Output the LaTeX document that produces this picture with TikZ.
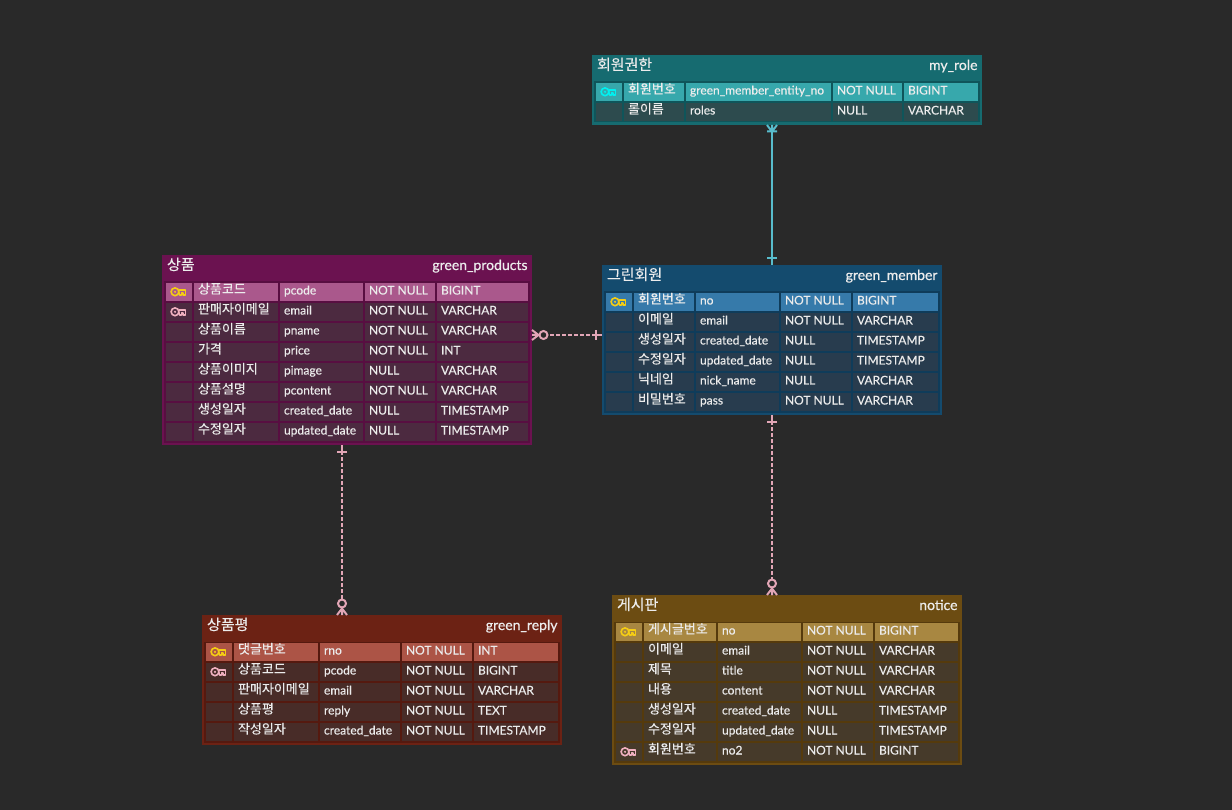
\documentclass[tikz,border=0pt]{standalone}
\usepackage{fontspec}
\setmainfont{Lato}[RawFeature={embolden=0.35}]
\newfontfamily\krfont{Noto Sans CJK KR}[RawFeature={embolden=0.2}]
\newfontfamily\ttfont{Lato}[RawFeature={embolden=0.6}]
\definecolor{bgc}{RGB}{41,41,41}
\definecolor{txtc}{RGB}{236,236,236}
\definecolor{pinkln}{RGB}{226,166,182}
\definecolor{tealln}{RGB}{88,188,204}
\definecolor{keyY}{RGB}{245,205,20}
\definecolor{keyC}{RGB}{0,240,240}
\definecolor{keyF}{RGB}{240,176,192}
\definecolor{pT}{RGB}{107,18,80}\definecolor{pB}{RGB}{88,14,65}\definecolor{pH}{RGB}{170,88,140}\definecolor{pN}{RGB}{76,42,64}
\definecolor{mT}{RGB}{20,75,110}\definecolor{mB}{RGB}{15,60,90}\definecolor{mH}{RGB}{54,122,170}\definecolor{mN}{RGB}{40,60,78}
\definecolor{nT}{RGB}{108,76,18}\definecolor{nB}{RGB}{85,58,12}\definecolor{nH}{RGB}{168,135,65}\definecolor{nN}{RGB}{70,58,42}
\definecolor{rT}{RGB}{108,34,20}\definecolor{rB}{RGB}{85,25,15}\definecolor{rH}{RGB}{172,84,70}\definecolor{rN}{RGB}{72,44,40}
\definecolor{oT}{RGB}{22,107,112}\definecolor{oB}{RGB}{15,85,90}\definecolor{oH}{RGB}{55,168,172}\definecolor{oN}{RGB}{45,75,78}
\tikzset{
  x=1pt,y=-1pt,
  tblbox/.style={inner sep=0pt,outer sep=0pt,anchor=north west},
  lat/.style={inner sep=0pt,outer sep=0pt,anchor=base west,text=txtc,font=\fontsize{12}{13}\selectfont},
  kor/.style={inner sep=0pt,outer sep=0pt,anchor=base west,text=txtc,font=\krfont\fontsize{13}{14}\selectfont},
  ttlkor/.style={inner sep=0pt,outer sep=0pt,anchor=base west,text=txtc,font=\krfont\fontsize{15}{16}\selectfont},
  ttllat/.style={inner sep=0pt,outer sep=0pt,anchor=base east,text=txtc,font=\ttfont\fontsize{14}{15}\selectfont},
  reldash/.style={draw=pinkln,line width=2pt,dash pattern=on 4pt off 2pt},
  relsolid/.style={draw=tealln,line width=2pt},
  onebar/.pic={\draw[line width=2pt,pic actions] (0,0)--(6.5,0) (6.5,-5)--(6.5,5);},
  crowbar/.pic={\draw[line width=2pt,pic actions] (0,-5)--(6.5,0)--(0,5) (0,0)--(6.5,0) (6.5,-5)--(6.5,5);},
  crowzero/.pic={\draw[line width=2pt,pic actions] (0,-5)--(6.5,0)--(0,5) (0,0)--(7.5,0);
    \filldraw[line width=2pt,pic actions,fill=bgc] (11.5,0) circle[radius=4];},
}
\newcommand\ertable[1]{\def\tid{#1}}
\newcommand\ergeom[9]{%
  \def\tp{#1}\def\xa{#2}\def\ya{#3}\def\xb{#4}\def\yb{#5}\def\ca{#6}\def\cb{#7}\def\cc{#8}\def\cd{#9}}
\newcommand\erdraw[2]{%
  \pgfmathsetmacro\tw{\xb-\xa}\pgfmathsetmacro\th{\yb-\ya}%
  \node[tblbox,fill=\tp T,minimum width=\tw pt,minimum height=\th pt] (\tid) at (\xa,\ya) {};
  \fill[\tp B] (\xa+2,\ya+26.5) rectangle (\xb-2,\yb-2.5);
  \node[ttlkor] (\tid-title) at (\xa+5,\ya+15) {#1};
  \node[ttllat] (\tid-phys) at (\xb-4.5,\ya+15) {#2};
}
\newcommand\erkey[3]{%
  \begin{scope}[shift={(#1,#2)}]
    \draw[#3,line width=1.6pt] (0,0) circle[radius=3.9];
    \fill[#3] (0,0) circle[radius=1.2];
    \draw[#3,line width=1.5pt,line join=round] (3.6,-1.8)--(10.6,-1.8)--(10.6,3.2)--(8.2,3.2)--(8.2,1.2)--(6.6,1.2)--(6.6,3.2)--(4.6,3.2)--(4.6,1.2)--(3.6,1.2);
  \end{scope}}
\newcommand\errow[6]{%
  \pgfmathsetmacro\rt{\ya+28+20*#1}\pgfmathsetmacro\rb{\rt+18}\pgfmathsetmacro\rbase{\rt+11.5}\pgfmathsetmacro\kbase{\rt+10.6}%
  \pgfmathsetmacro\rc{\rt+8.8}\pgfmathsetmacro\ix{\xa+4}\pgfmathsetmacro\ex{\xb-4}\pgfmathsetmacro\kx{\xa+13}%
  \ifx#2P\def\cf{\tp H}\else\def\cf{\tp N}\fi
  \fill[\cf] (\ix,\rt) rectangle (\ca,\rb);
  \fill[\cf] (\ca+2,\rt) rectangle (\cb,\rb);
  \fill[\cf] (\cb+2,\rt) rectangle (\cc,\rb);
  \fill[\cf] (\cc+2,\rt) rectangle (\cd,\rb);
  \fill[\cf] (\cd+2,\rt) rectangle (\ex,\rb);
  \ifx#2P\erkey{\kx}{\rc}{\keycol}\fi
  \ifx#2F\erkey{\kx}{\rc}{keyF}\fi
  \node[kor] (\tid-#1-k) at (\ca+6,\kbase) {#3};
  \node[lat] (\tid-#1-c) at (\cb+6,\rbase) {#4};
  \node[lat] (\tid-#1-n) at (\cc+6,\rbase) {#5};
  \node[lat] (\tid-#1-t) at (\cd+6,\rbase) {#6};
}
\begin{document}
\begin{tikzpicture}
\useasboundingbox (0,0) rectangle (1232,810);
\fill[bgc] (0,0) rectangle (1232,810);
\def\keycol{keyC}
\ertable{role}\ergeom{o}{592}{55}{982}{125}{622}{684}{831}{902}
\erdraw{회원권한}{my\_role}
\errow{0}{P}{회원번호}{green\_member\_entity\_no}{NOT NULL}{BIGINT}
\errow{1}{N}{롤이름}{roles}{NULL}{VARCHAR}
\def\keycol{keyY}

\ertable{prod}\ergeom{p}{162}{255}{532}{445}{192}{278}{363}{435}
\erdraw{상품}{green\_products}
\errow{0}{P}{상품코드}{pcode}{NOT NULL}{BIGINT}
\errow{1}{F}{판매자이메일}{email}{NOT NULL}{VARCHAR}
\errow{2}{N}{상품이름}{pname}{NOT NULL}{VARCHAR}
\errow{3}{N}{가격}{price}{NOT NULL}{INT}
\errow{4}{N}{상품이미지}{pimage}{NULL}{VARCHAR}
\errow{5}{N}{상품설명}{pcontent}{NOT NULL}{VARCHAR}
\errow{6}{N}{생성일자}{created\_date}{NULL}{TIMESTAMP}
\errow{7}{N}{수정일자}{updated\_date}{NULL}{TIMESTAMP}

\ertable{memb}\ergeom{m}{602}{265}{942}{415}{632}{694}{779}{851}
\erdraw{그린회원}{green\_member}
\errow{0}{P}{회원번호}{no}{NOT NULL}{BIGINT}
\errow{1}{N}{이메일}{email}{NOT NULL}{VARCHAR}
\errow{2}{N}{생성일자}{created\_date}{NULL}{TIMESTAMP}
\errow{3}{N}{수정일자}{updated\_date}{NULL}{TIMESTAMP}
\errow{4}{N}{닉네임}{nick\_name}{NULL}{VARCHAR}
\errow{5}{N}{비밀번호}{pass}{NOT NULL}{VARCHAR}

\ertable{repl}\ergeom{r}{202}{615}{562}{745}{232}{318}{400}{472}
\erdraw{상품평}{green\_reply}
\errow{0}{P}{댓글번호}{rno}{NOT NULL}{INT}
\errow{1}{F}{상품코드}{pcode}{NOT NULL}{BIGINT}
\errow{2}{N}{판매자이메일}{email}{NOT NULL}{VARCHAR}
\errow{3}{N}{상품평}{reply}{NOT NULL}{TEXT}
\errow{4}{N}{작성일자}{created\_date}{NOT NULL}{TIMESTAMP}

\ertable{noti}\ergeom{n}{612}{595}{962}{765}{642}{716}{801}{873}
\erdraw{게시판}{notice}
\errow{0}{P}{게시글번호}{no}{NOT NULL}{BIGINT}
\errow{1}{N}{이메일}{email}{NOT NULL}{VARCHAR}
\errow{2}{N}{제목}{title}{NOT NULL}{VARCHAR}
\errow{3}{N}{내용}{content}{NOT NULL}{VARCHAR}
\errow{4}{N}{생성일자}{created\_date}{NULL}{TIMESTAMP}
\errow{5}{N}{수정일자}{updated\_date}{NULL}{TIMESTAMP}
\errow{6}{F}{회원번호}{no2}{NOT NULL}{BIGINT}

\coordinate (xrm) at (772,0);
\coordinate (xpr) at (342,0);
\coordinate (ypm) at (0,335);
\draw[relsolid] (role.south -| xrm) -- (memb.north -| xrm);
\draw[reldash] (prod.east |- ypm) -- (memb.west |- ypm);
\draw[reldash] (prod.south -| xpr) -- (repl.north -| xpr);
\draw[reldash] (memb.south -| xrm) -- (noti.north -| xrm);
\path (role.south -| xrm) pic[rotate=-90,draw=tealln] {crowbar};
\path (memb.north -| xrm) pic[rotate=90,draw=tealln] {onebar};
\path (prod.east |- ypm) pic[draw=pinkln] {crowzero};
\path (memb.west |- ypm) pic[rotate=180,draw=pinkln] {onebar};
\path (prod.south -| xpr) pic[rotate=-90,draw=pinkln] {onebar};
\path (repl.north -| xpr) pic[rotate=90,draw=pinkln] {crowzero};
\path (memb.south -| xrm) pic[rotate=-90,draw=pinkln] {onebar};
\path (noti.north -| xrm) pic[rotate=90,draw=pinkln] {crowzero};
\end{tikzpicture}
\end{document}
